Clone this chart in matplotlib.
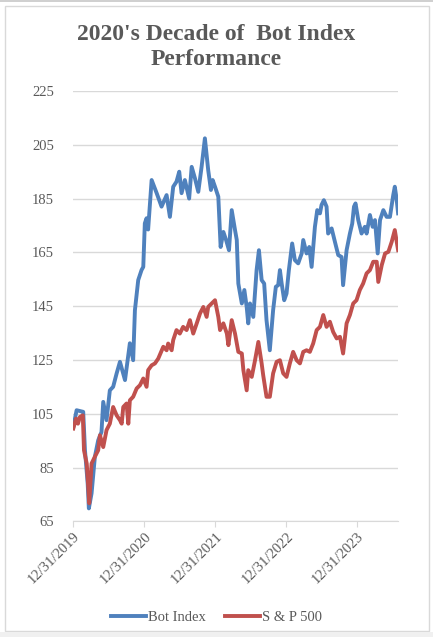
import matplotlib
matplotlib.use("Agg")
import matplotlib.pyplot as plt
import matplotlib.dates as mdates
from matplotlib.patches import Rectangle
import pandas as pd

# values
bot_dates = [
    "2019-12-31", "2020-01-17", "2020-02-03", "2020-02-20", "2020-02-29", "2020-03-14",
    "2020-03-20", "2020-04-03", "2020-04-20", "2020-05-07", "2020-05-24", "2020-06-02",
    "2020-06-19", "2020-07-06", "2020-07-23", "2020-08-10", "2020-08-27", "2020-09-22",
    "2020-10-17", "2020-11-03", "2020-11-12", "2020-11-29", "2020-12-16", "2020-12-25",
    "2021-01-02", "2021-01-11", "2021-01-19", "2021-02-06", "2021-03-04", "2021-03-29",
    "2021-04-24", "2021-05-11", "2021-05-28", "2021-06-14", "2021-06-28", "2021-07-10",
    "2021-07-27", "2021-08-18", "2021-08-31", "2021-09-17", "2021-10-04", "2021-10-21",
    "2021-11-07", "2021-11-24", "2021-12-08", "2021-12-17", "2021-12-29", "2022-01-15",
    "2022-01-27", "2022-02-10", "2022-02-24", "2022-03-11", "2022-03-25", "2022-04-11",
    "2022-04-20", "2022-04-28", "2022-05-16", "2022-05-29", "2022-06-10", "2022-06-18",
    "2022-06-27", "2022-07-14", "2022-07-31", "2022-08-12", "2022-08-26", "2022-09-08",
    "2022-09-20", "2022-10-07", "2022-10-24", "2022-11-07", "2022-11-19", "2022-11-28",
    "2022-12-07", "2022-12-20", "2023-01-01", "2023-01-13", "2023-01-30", "2023-02-13",
    "2023-03-02", "2023-03-20", "2023-03-28", "2023-04-14", "2023-04-28", "2023-05-10",
    "2023-05-27", "2023-06-08", "2023-06-22", "2023-06-30", "2023-07-12", "2023-07-26",
    "2023-08-03", "2023-08-21", "2023-09-07", "2023-09-24", "2023-10-11", "2023-10-19",
    "2023-11-06", "2023-11-23", "2023-12-05", "2023-12-14", "2023-12-22", "2024-01-05",
    "2024-01-22", "2024-02-08", "2024-02-17", "2024-03-05", "2024-03-19", "2024-03-31",
    "2024-04-14", "2024-04-26", "2024-05-13", "2024-05-30", "2024-06-16", "2024-07-03",
    "2024-07-11", "2024-07-20", "2024-07-28",
]
bot_values = [
    100.0, 106.3, 106.0, 105.7, 91.4, 79.0,
    69.8, 75.4, 89.0, 95.1, 98.2, 109.4,
    102.6, 113.7, 115.0, 120.0, 124.3, 117.5,
    131.2, 124.9, 143.5, 154.7, 158.4, 159.6,
    175.8, 177.7, 173.5, 191.9, 187.0, 182.0,
    186.3, 178.2, 189.4, 191.3, 195.0, 187.0,
    191.9, 185.0, 196.8, 192.5, 187.5, 196.8,
    207.4, 195.6, 188.2, 191.9, 189.4, 185.7,
    167.0, 172.6, 169.6, 165.8, 180.7, 173.3,
    169.6, 153.4, 146.0, 151.0, 144.7, 138.6,
    146.0, 141.0, 158.4, 165.8, 154.7, 153.4,
    139.8, 128.6, 143.5, 152.2, 152.8, 158.4,
    153.4, 147.2, 149.7, 158.4, 168.3, 162.1,
    160.9, 164.6, 169.6, 164.6, 167.0, 159.6,
    174.5, 180.7, 179.5, 182.6, 184.4, 182.0,
    172.0, 173.9, 168.9, 164.0, 163.3, 152.8,
    165.8, 172.0, 175.7, 182.0, 183.2, 177.0,
    172.0, 174.5, 172.0, 178.9, 174.5, 177.0,
    164.6, 177.0, 180.7, 178.2, 178.2, 186.3,
    189.4, 185.0, 179.5,
]

spx_dates = [
    "2019-12-31", "2020-01-14", "2020-01-24", "2020-02-03", "2020-02-18", "2020-02-24",
    "2020-03-09", "2020-03-17", "2020-03-22", "2020-04-03", "2020-04-20", "2020-05-07",
    "2020-05-16", "2020-06-02", "2020-06-19", "2020-07-06", "2020-07-23", "2020-08-10",
    "2020-08-27", "2020-09-05", "2020-09-13", "2020-09-30", "2020-10-09", "2020-10-17",
    "2020-11-03", "2020-11-21", "2020-12-08", "2020-12-25", "2021-01-11", "2021-01-19",
    "2021-02-06", "2021-02-23", "2021-03-12", "2021-04-07", "2021-04-24", "2021-05-02",
    "2021-05-20", "2021-05-28", "2021-06-14", "2021-07-01", "2021-07-18", "2021-08-05",
    "2021-08-22", "2021-09-08", "2021-09-26", "2021-10-13", "2021-10-30", "2021-11-16",
    "2021-11-24", "2021-12-12", "2021-12-29", "2022-01-15", "2022-01-24", "2022-02-10",
    "2022-02-28", "2022-03-08", "2022-03-25", "2022-04-11", "2022-04-28", "2022-05-16",
    "2022-05-24", "2022-06-10", "2022-06-18", "2022-07-06", "2022-07-23", "2022-08-09",
    "2022-08-26", "2022-09-03", "2022-09-20", "2022-10-07", "2022-10-24", "2022-11-11",
    "2022-11-28", "2022-12-15", "2023-01-01", "2023-01-18", "2023-02-04", "2023-02-22",
    "2023-03-11", "2023-03-28", "2023-04-14", "2023-05-01", "2023-05-18", "2023-06-05",
    "2023-06-22", "2023-07-09", "2023-07-26", "2023-08-12", "2023-08-29", "2023-09-16",
    "2023-10-03", "2023-10-19", "2023-11-06", "2023-11-23", "2023-12-10", "2023-12-27",
    "2024-01-13", "2024-01-30", "2024-02-17", "2024-03-05", "2024-03-22", "2024-04-09",
    "2024-04-17", "2024-05-05", "2024-05-22", "2024-06-08", "2024-06-25", "2024-07-11",
    "2024-07-28",
]
spx_values = [
    99.5, 103.2, 101.3, 103.8, 104.4, 91.4,
    86.5, 77.8, 71.7, 86.5, 89.0, 91.4,
    97.0, 92.6, 98.9, 101.3, 107.5, 104.4,
    102.6, 101.3, 107.5, 108.8, 101.3, 110.0,
    111.3, 114.4, 115.6, 118.1, 115.0, 121.2,
    123.0, 123.7, 125.5, 129.9, 128.6, 131.1,
    128.6, 132.4, 136.1, 134.8, 137.3, 136.1,
    139.8, 134.8, 138.6, 142.3, 144.7, 141.0,
    144.7, 146.0, 147.2, 141.0, 136.1, 138.6,
    134.8, 130.5, 139.8, 134.8, 128.0, 127.4,
    121.2, 113.7, 121.2, 118.7, 124.9, 131.7,
    123.7, 119.3, 111.3, 111.3, 120.0, 124.3,
    124.9, 120.0, 118.7, 123.7, 128.0, 124.9,
    123.7, 128.0, 128.6, 128.0, 131.1, 136.1,
    137.3, 141.7, 137.3, 139.2, 135.4, 133.0,
    133.6, 127.4, 138.6, 141.7, 146.0, 147.2,
    151.0, 153.4, 157.2, 158.4, 161.5, 161.5,
    154.0, 160.3, 164.6, 165.2, 168.9, 173.3,
    165.8,
]

y_ticks = [65, 85, 105, 125, 145, 165, 185, 205, 225]
x_ticks = ["2019-12-31", "2020-12-31", "2021-12-31", "2022-12-31", "2023-12-31"]

grey = "#595959"
plt.rcParams["font.family"] = ["Liberation Serif", "DejaVu Serif"]

fig = plt.figure(figsize=(4.33, 6.37), dpi=100)
fig.patch.set_facecolor("white")

# chart frame and the grey strip below it
fig.add_artist(Rectangle((5 / 433, 1 - 631 / 637), 424 / 433, 625 / 637,
                         transform=fig.transFigure, fill=False,
                         edgecolor="#d9d9d9", linewidth=1))
fig.add_artist(Rectangle((0, 0), 1, 5 / 637, transform=fig.transFigure,
                         facecolor="#f0f0f0", edgecolor="none"))
fig.add_artist(Rectangle((0, 1 - 2 / 637), 1, 2 / 637, transform=fig.transFigure,
                         facecolor="#d0d0d0", edgecolor="none"))

ax = fig.add_axes([73.3 / 433, 1 - 521.3 / 637, 325 / 433, 430.3 / 637])

ax.plot(pd.to_datetime(bot_dates), bot_values, color="#4F81BD", linewidth=2.8,
        label="Bot Index", solid_joinstyle="round")
ax.plot(pd.to_datetime(spx_dates), spx_values, color="#C0504D", linewidth=2.8,
        label="S & P 500", solid_joinstyle="round")

ax.set_ylim(65, 225)
ax.set_yticks(y_ticks)
ax.set_xlim(pd.Timestamp("2019-12-31"), pd.Timestamp("2024-07-29"))
ax.set_xticks(pd.to_datetime(x_ticks))
ax.xaxis.set_major_formatter(mdates.DateFormatter("%m/%d/%Y"))

ax.grid(axis="y", color="#d9d9d9", linewidth=1)
ax.set_axisbelow(True)
for side in ["top", "right", "left"]:
    ax.spines[side].set_visible(False)
ax.spines["bottom"].set_color("#d9d9d9")
ax.tick_params(axis="y", length=0, pad=14, labelsize=10.5, labelcolor=grey)
ax.tick_params(axis="x", length=4, color="#d9d9d9", labelsize=10.5, labelcolor=grey, pad=2)
for lbl in ax.get_xticklabels():
    lbl.set_rotation(45)
    lbl.set_ha("right")
    lbl.set_rotation_mode("anchor")

fig.text(0.5, 1 - 47 / 637, "2020's Decade of  Bot Index\nPerformance", ha="center",
         va="center", fontsize=17, fontweight="bold", color=grey, linespacing=1.2)

fig.legend(loc="center", bbox_to_anchor=(0.5, 1 - 617 / 637), ncol=2, frameon=False,
           fontsize=10.5, labelcolor=grey, handlelength=2.4, handletextpad=0.15,
           columnspacing=1.3)

fig.savefig("out.png", dpi=100)
